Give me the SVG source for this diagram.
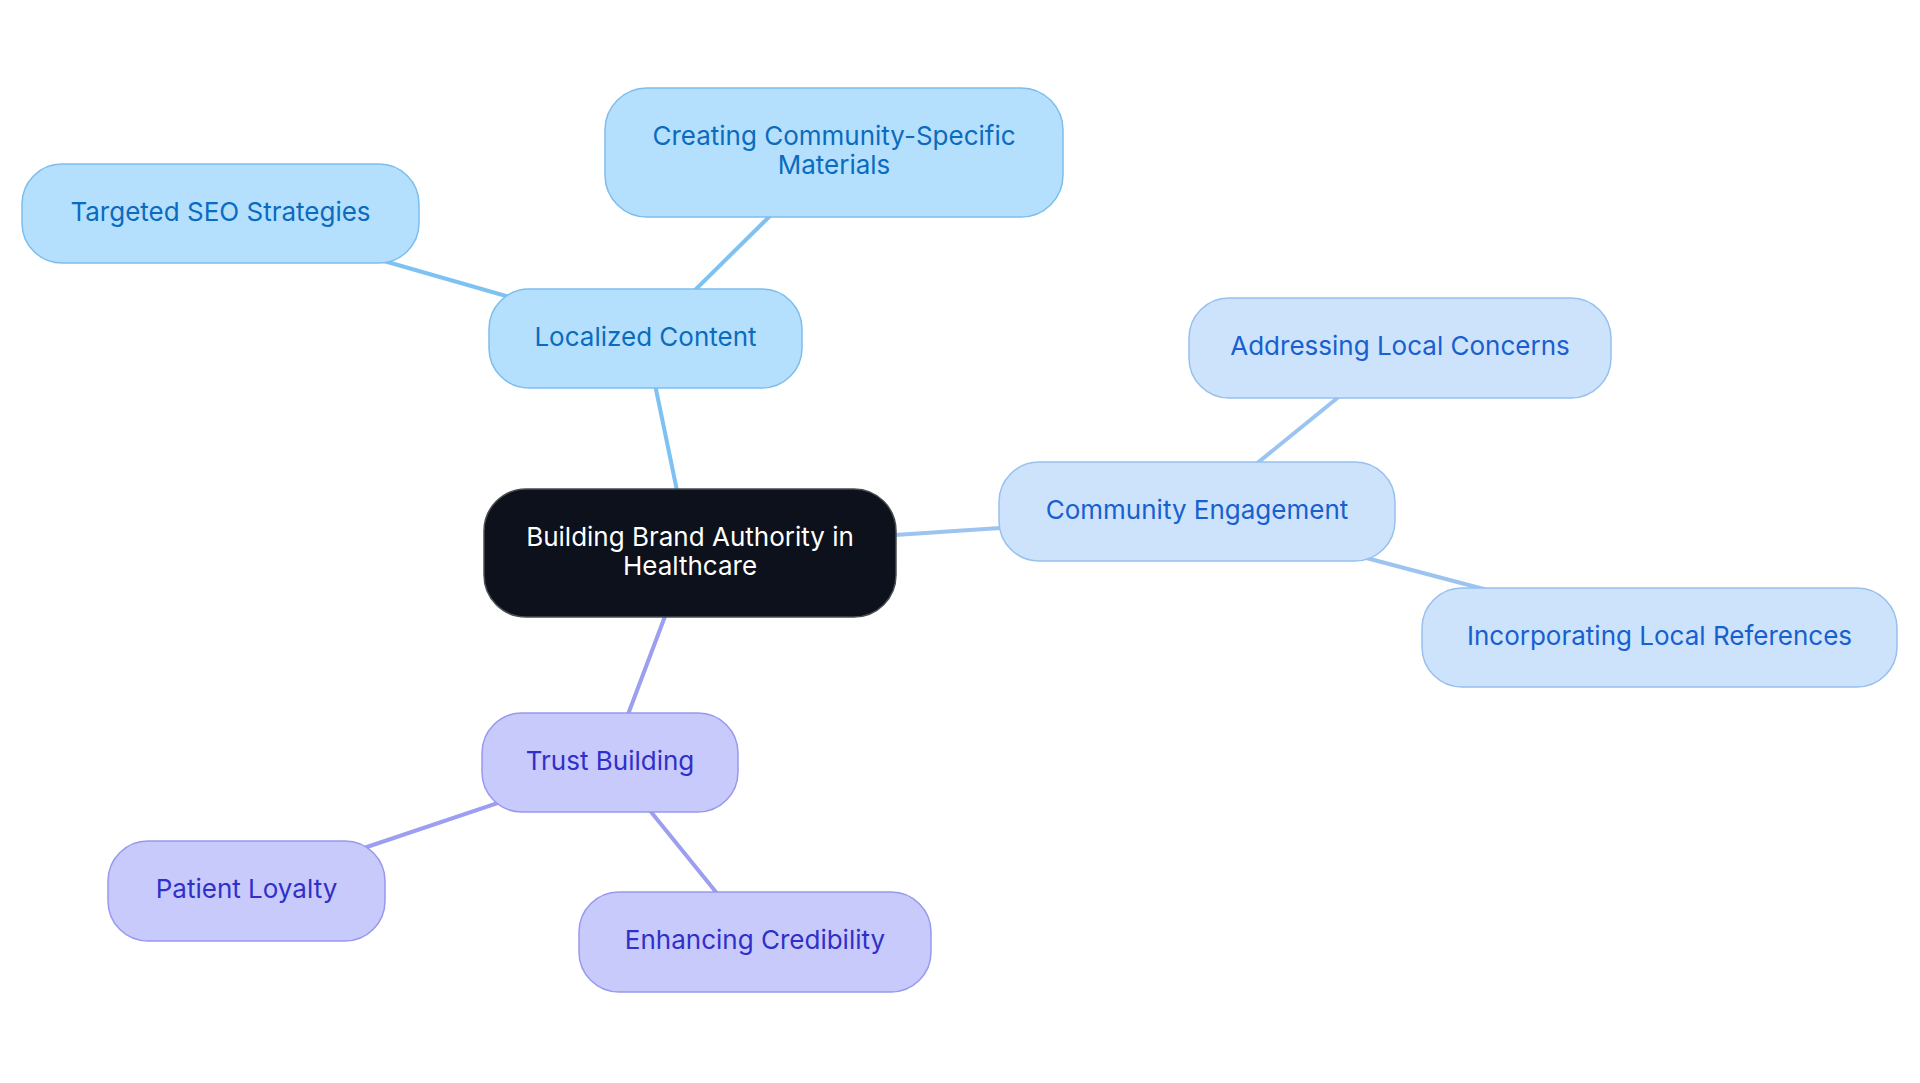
<svg xmlns="http://www.w3.org/2000/svg" width="1920" height="1083" viewBox="0 0 1920 1083">
<style>
  text { font-family: Inter, "Liberation Sans", sans-serif; font-size: 26px; text-anchor: middle; }
  .edge { fill: none; stroke-width: 4; stroke-linecap: round; }
  .e-lc { stroke: #7dc2f2; }
  .e-ce { stroke: #9cc4f0; }
  .e-tb { stroke: #9c9ef0; }
  .n-lc rect { fill: #b4e0fd; stroke: #7cbdee; stroke-width: 1.5; }
  .n-lc text { fill: #0b6bbf; }
  .n-ce rect { fill: #cde3fb; stroke: #97c0ef; stroke-width: 1.5; }
  .n-ce text { fill: #1760cf; }
  .n-tb rect { fill: #c8cafc; stroke: #9899ec; stroke-width: 1.5; }
  .n-tb text { fill: #3030c8; }
  .root rect { fill: #0c111b; stroke: #4a4d52; stroke-width: 1.5; }
  .root text { fill: #ffffff; }
</style>
<rect width="1920" height="1083" fill="#ffffff"/>
<g id="connectors">
  <line class="edge e-lc" x1="681" y1="510" x2="652" y2="370"/>
  <line class="edge e-lc" x1="520" y1="300" x2="370" y2="257"/>
  <line class="edge e-lc" x1="690" y1="295" x2="776" y2="210"/>
  <line class="edge e-ce" x1="880" y1="536" x2="1015" y2="527"/>
  <line class="edge e-ce" x1="1250" y1="469" x2="1346" y2="391"/>
  <line class="edge e-ce" x1="1355" y1="555" x2="1495" y2="592"/>
  <line class="edge e-tb" x1="670" y1="603" x2="624" y2="725"/>
  <line class="edge e-tb" x1="510" y1="799" x2="352" y2="852"/>
  <line class="edge e-tb" x1="643" y1="802" x2="724" y2="902"/>
</g>
<g id="node-root" class="root">
  <rect x="484" y="489" width="412" height="128" rx="42"/>
  <text x="690" y="546">Building Brand Authority in</text>
  <text x="690" y="575">Healthcare</text>
</g>
<g id="node-localized" class="n-lc">
  <rect x="489" y="289" width="313" height="99" rx="40"/>
  <text x="645.5" y="346">Localized Content</text>
</g>
<g id="node-targeted" class="n-lc">
  <rect x="22" y="164" width="397" height="99" rx="40"/>
  <text x="220.5" y="221">Targeted SEO Strategies</text>
</g>
<g id="node-creating" class="n-lc">
  <rect x="605" y="88" width="458" height="129" rx="42"/>
  <text x="834" y="145">Creating Community-Specific</text>
  <text x="834" y="174">Materials</text>
</g>
<g id="node-community" class="n-ce">
  <rect x="999" y="462" width="396" height="99" rx="40"/>
  <text x="1197" y="519">Community Engagement</text>
</g>
<g id="node-addressing" class="n-ce">
  <rect x="1189" y="298" width="422" height="100" rx="40"/>
  <text x="1400" y="355">Addressing Local Concerns</text>
</g>
<g id="node-incorporating" class="n-ce">
  <rect x="1422" y="588" width="475" height="99" rx="40"/>
  <text x="1659.5" y="645">Incorporating Local References</text>
</g>
<g id="node-trust" class="n-tb">
  <rect x="482" y="713" width="256" height="99" rx="40"/>
  <text x="610" y="770">Trust Building</text>
</g>
<g id="node-patient" class="n-tb">
  <rect x="108" y="841" width="277" height="100" rx="40"/>
  <text x="246.5" y="898">Patient Loyalty</text>
</g>
<g id="node-enhancing" class="n-tb">
  <rect x="579" y="892" width="352" height="100" rx="40"/>
  <text x="755" y="949">Enhancing Credibility</text>
</g>
</svg>
